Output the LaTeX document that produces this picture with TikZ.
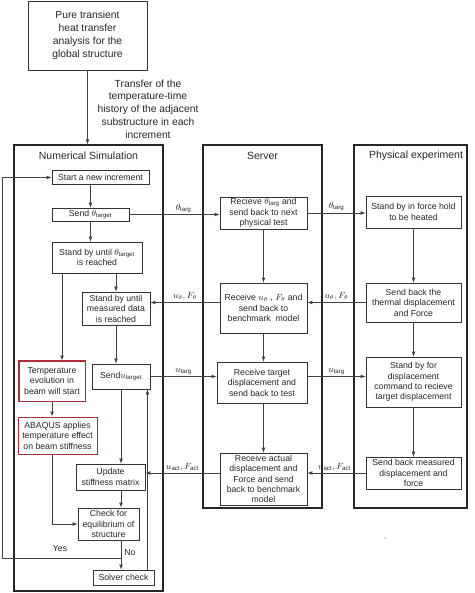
\documentclass[tikz,border=0pt]{standalone}
\usepackage{amsmath}
\usepackage{fontspec}
\setmainfont{Liberation Sans}
\usetikzlibrary{arrows,positioning}
\definecolor{boxred}{RGB}{175,45,55}

\begin{document}
\begin{tikzpicture}[x=1pt,y=1pt,yscale=-1,xscale=1,
  box/.style={draw=black!80, line width=0.8pt, align=center, inner sep=1pt,
    text=black!85, font=\fontsize{8.7}{10.4}\selectfont},
  redbox/.style={box, draw=boxred, line width=1pt},
  column/.style={draw=black!85, line width=1.3pt},
  coltitle/.style={font=\fontsize{10.5}{12.5}\selectfont, text=black!85, inner sep=1pt},
  bigtext/.style={font=\fontsize{10.3}{12.8}\selectfont, align=center, text=black!85},
  arr/.style={-latex, draw=black!75, line width=0.7pt},
  lbl/.style={font=\fontsize{8.7}{10}\selectfont, inner sep=1.5pt, text=black!85}]
\useasboundingbox (0,0) rectangle (474,593);

%global model on top
\node[box, bigtext, minimum width=119, minimum height=69] (global) at (87.5,35.5)
  {Pure transient\\heat transfer\\analysis for the\\global structure};
\node[bigtext] (transfer) at (148,109)
  {Transfer of the\\temperature-time\\history of the adjacent\\substructure in each\\increment};

%the three columns
\node[column, minimum width=149, minimum height=446] (numcol) at (88.5,368) {};
\node[column, minimum width=119, minimum height=363] (srvcol) at (262.5,326.5) {};
\node[column, minimum width=113, minimum height=363] (phycol) at (410.5,326.5) {};
\node[coltitle] (numtitle) at (88.5,156) {Numerical Simulation};
\node[coltitle] (srvtitle) at (262.5,156) {Server};
\node[coltitle] (phytitle) at (416,156) {Physical experiment};

%numerical simulation
\node[box, minimum width=97, minimum height=14] (start) at (100.5,177.5) {Start a new increment};
\node[box, minimum width=77, minimum height=13] (sendth) at (90.5,214.5) {Send $\theta_{\mathrm{target}}$};
\node[box, minimum width=90, minimum height=31] (standth) at (97,257.5) {Stand by until $\theta_{\mathrm{target}}$\\is reached};
\node[box, minimum width=68, minimum height=33] (standmd) at (116,308.5) {Stand by until\\measured data\\is reached};
\node[redbox, minimum width=66, minimum height=40] (tempev) at (52,381) {Temperature\\evolution in\\beam will start};
\node[box, minimum width=58, minimum height=25] (sendu) at (121,376.5) {Send$u_{\mathrm{target}}$};
\node[redbox, minimum width=79, minimum height=37] (abaqus) at (57.5,435.5) {ABAQUS applies\\temperature effect\\on beam stiffness};
\node[box, minimum width=69, minimum height=26] (update) at (110.5,477) {Update\\stiffness matrix};
\node[box, minimum width=61, minimum height=32] (check) at (108.5,524) {Check for\\equilibrium of\\structure};
\node[box, minimum width=61, minimum height=15] (solver) at (123.5,577.5) {Solver check};
\draw[boxred, line width=1pt] (tempev.north west) rectangle (tempev.south east);

%server
\node[box, minimum width=87, minimum height=32] (s1) at (263.5,213) {Recieve $\theta_{\mathrm{targ}}$ and\\send back to next\\physical test};
\node[box, minimum width=87, minimum height=50] (s2) at (263.5,308) {Receive $u_\theta$ , $F_\theta$ and\\send back to\\benchmark\ \ model};
\node[box, minimum width=90, minimum height=41] (s3) at (262,382.5) {Receive target\\displacement and\\send back to test};
\node[box, minimum width=87, minimum height=52] (s4) at (263.5,479) {Receive actual\\displacement and\\Force and send\\back to benchmark\\model};

%physical experiment
\node[box, minimum width=95, minimum height=32] (p1) at (413.5,212) {Stand by in force hold\\to be heated};
\node[box, minimum width=95, minimum height=39] (p2) at (413.5,302.5) {Send back the\\thermal displacement\\and Force};
\node[box, minimum width=95, minimum height=50] (p3) at (413.5,382) {Stand by for\\displacement\\command to recieve\\target displacement};
\node[box, minimum width=95, minimum height=32] (p4) at (413.5,473) {Send back measured\\displacement and\\force};

%connectors
\draw[arr] (global.south) -- (global.south |- numcol.north);
\draw[arr] (sendth |- start.south) -- (sendth.north);
\draw[arr] (sendth.south) -- (sendth.south |- standth.north);
\draw[arr] (standmd |- standth.south) -- (standmd.north);
\draw[arr] ([xshift=10pt]tempev.north |- standth.south) -- ([xshift=10pt]tempev.north);
\draw[arr] (standmd.south) -- (standmd.south |- sendu.north);
\draw[arr] (tempev.south) -- (tempev.south |- abaqus.north);
\draw[arr] (tempev.south |- abaqus.south) |- (check.west);
\draw[arr] (sendu.south) -- (sendu.south |- update.north);
\draw[arr] (sendu.south |- update.south) -- (sendu.south |- check.north);
\draw[arr] (sendu.south |- check.south) -- (sendu.south |- solver.north);
\draw[arr] ([xshift=-3pt]sendu.south east |- solver.north) -- ([xshift=-3pt]sendu.south east);
\coordinate (loopcorner) at (2,558);
\draw[arr] (sendu.south |- loopcorner) -- (loopcorner) |- (start.west);
\node[lbl] (yes) at (60,549) {Yes};
\node[lbl] (no) at (130,553) {No};

\draw[arr] (sendth.east) -- (sendth.east -| s1.west) node[lbl, pos=0.6, above] {$\theta_{\mathrm{targ}}$};
\draw[arr] (s1.east) -- (s1.east -| p1.west) node[lbl, midway, above] {$\theta_{\mathrm{targ}}$};
\draw[arr] (s1.south) -- (s1.south |- s2.north);
\draw[arr] (s1.south |- s2.south) -- (s1.south |- s3.north);
\draw[arr] (s1.south |- s3.south) -- (s1.south |- s4.north);
\draw[arr] (p1.south) -- (p1.south |- p2.north);
\draw[arr] (p2.south) -- (p2.south |- p3.north);
\draw[arr] (p3.south) -- (p3.south |- p4.north);
\draw[arr] (p2.west) -- (p2.west -| s2.east) node[lbl, midway, above] {$u_\theta, F_\theta$};
\draw[arr] (p2.west -| s2.west) -- (p2.west -| standmd.east) node[lbl, midway, above] {$u_\theta, F_\theta$};
\draw[arr] (sendu.east) -- (sendu.east -| s3.west) node[lbl, midway, above] {$u_{\mathrm{targ}}$};
\draw[arr] (sendu.east -| s3.east) -- (sendu.east -| p3.west) node[lbl, midway, above] {$u_{\mathrm{targ}}$};
\draw[arr] (p4.west) -- (p4.west -| s4.east) node[lbl, midway, above, xshift=-2pt] {$u_{\mathrm{act}}, F_{\mathrm{act}}$};
\draw[arr] (p4.west -| s4.west) -- (p4.west -| update.east) node[lbl, midway, above] {$u_{\mathrm{act}}, F_{\mathrm{act}}$};

\fill[black!60] (385,538) circle (0.6);

\end{tikzpicture}
\end{document}
